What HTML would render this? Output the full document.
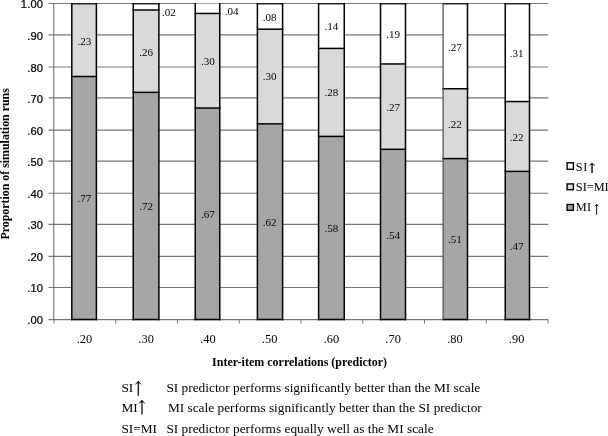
<!DOCTYPE html>
<html><head><meta charset="utf-8"><title>Figure</title>
<style>
html,body{margin:0;padding:0;background:#fff;}
body{width:608px;height:436px;overflow:hidden;}
svg{display:block;}
text{fill:#000;}
.ax{font-family:"Liberation Sans",sans-serif;font-size:11.2px;stroke:#000;stroke-width:0.22px;}
.in{font-family:"Liberation Serif",serif;font-size:11.1px;}
.xl{font-family:"Liberation Serif",serif;font-size:12.4px;}
.lg{font-family:"Liberation Serif",serif;font-size:12.3px;}
.tt{font-family:"Liberation Serif",serif;font-size:12px;font-weight:bold;}
.cp{font-family:"Liberation Serif",serif;font-size:13.34px;}
.ar{font-family:"DejaVu Math TeX Gyre","DejaVu Serif",serif;}
</style></head><body>
<svg width="608" height="436" viewBox="0 0 608 436">
<defs><clipPath id="pc"><rect x="0" y="3.0" width="608" height="340"/></clipPath></defs>
<rect width="608" height="436" fill="#fff"/>

<line x1="48.5" y1="319.55" x2="548.3" y2="319.55" stroke="#747474" stroke-width="1.15"/>
<line x1="48.5" y1="287.50" x2="548.3" y2="287.50" stroke="#747474" stroke-width="1.15"/>
<line x1="48.5" y1="256.40" x2="548.3" y2="256.40" stroke="#747474" stroke-width="1.15"/>
<line x1="48.5" y1="224.40" x2="548.3" y2="224.40" stroke="#747474" stroke-width="1.15"/>
<line x1="48.5" y1="193.25" x2="548.3" y2="193.25" stroke="#747474" stroke-width="1.15"/>
<line x1="48.5" y1="161.05" x2="548.3" y2="161.05" stroke="#747474" stroke-width="1.15"/>
<line x1="48.5" y1="130.10" x2="548.3" y2="130.10" stroke="#747474" stroke-width="1.15"/>
<line x1="48.5" y1="97.90" x2="548.3" y2="97.90" stroke="#747474" stroke-width="1.15"/>
<line x1="48.5" y1="66.95" x2="548.3" y2="66.95" stroke="#747474" stroke-width="1.15"/>
<line x1="48.5" y1="34.80" x2="548.3" y2="34.80" stroke="#747474" stroke-width="1.15"/>
<line x1="48.5" y1="3.50" x2="548.3" y2="3.50" stroke="#747474" stroke-width="1.15"/>
<line x1="53.75" y1="3.00" x2="53.75" y2="320.00" stroke="#747474" stroke-width="1.1"/>
<line x1="54.00" y1="319.50" x2="54.00" y2="323.50" stroke="#747474" stroke-width="1"/>
<line x1="115.75" y1="319.50" x2="115.75" y2="323.50" stroke="#747474" stroke-width="1"/>
<line x1="177.50" y1="319.50" x2="177.50" y2="323.50" stroke="#747474" stroke-width="1"/>
<line x1="239.25" y1="319.50" x2="239.25" y2="323.50" stroke="#747474" stroke-width="1"/>
<line x1="301.00" y1="319.50" x2="301.00" y2="323.50" stroke="#747474" stroke-width="1"/>
<line x1="362.75" y1="319.50" x2="362.75" y2="323.50" stroke="#747474" stroke-width="1"/>
<line x1="424.50" y1="319.50" x2="424.50" y2="323.50" stroke="#747474" stroke-width="1"/>
<line x1="486.25" y1="319.50" x2="486.25" y2="323.50" stroke="#747474" stroke-width="1"/>
<line x1="548.00" y1="319.50" x2="548.00" y2="323.50" stroke="#747474" stroke-width="1"/>
<text class="ax" x="43.3" y="324.20" text-anchor="end" letter-spacing="0.2">.00</text>
<text class="ax" x="43.3" y="292.15" text-anchor="end" letter-spacing="0.2">.10</text>
<text class="ax" x="43.3" y="261.20" text-anchor="end" letter-spacing="0.2">.20</text>
<text class="ax" x="43.3" y="229.10" text-anchor="end" letter-spacing="0.2">.30</text>
<text class="ax" x="43.3" y="197.95" text-anchor="end" letter-spacing="0.2">.40</text>
<text class="ax" x="43.3" y="165.65" text-anchor="end" letter-spacing="0.2">.50</text>
<text class="ax" x="43.3" y="134.50" text-anchor="end" letter-spacing="0.2">.60</text>
<text class="ax" x="43.3" y="103.30" text-anchor="end" letter-spacing="0.2">.70</text>
<text class="ax" x="43.3" y="71.90" text-anchor="end" letter-spacing="0.2">.80</text>
<text class="ax" x="43.3" y="40.00" text-anchor="end" letter-spacing="0.2">.90</text>
<text class="ax" x="43.3" y="7.70" text-anchor="end" letter-spacing="0.2">1.00</text>
<rect x="71.80" y="76.50" width="24.60" height="243.00" fill="#a6a6a6"/>
<rect x="71.80" y="3.60" width="24.60" height="72.90" fill="#d9d9d9"/>
<rect x="133.25" y="92.35" width="25.65" height="227.15" fill="#a6a6a6"/>
<rect x="133.25" y="10.00" width="25.65" height="82.35" fill="#d9d9d9"/>
<rect x="133.25" y="3.60" width="25.65" height="6.40" fill="#fff"/>
<rect x="195.25" y="108.05" width="24.50" height="211.45" fill="#a6a6a6"/>
<rect x="195.25" y="13.45" width="24.50" height="94.60" fill="#d9d9d9"/>
<rect x="195.25" y="3.60" width="24.50" height="9.85" fill="#fff"/>
<rect x="257.40" y="123.85" width="25.20" height="195.65" fill="#a6a6a6"/>
<rect x="257.40" y="29.20" width="25.20" height="94.65" fill="#d9d9d9"/>
<rect x="257.40" y="3.60" width="25.20" height="25.60" fill="#fff"/>
<rect x="318.60" y="136.40" width="25.65" height="183.10" fill="#a6a6a6"/>
<rect x="318.60" y="48.40" width="25.65" height="88.00" fill="#d9d9d9"/>
<rect x="318.60" y="3.60" width="25.65" height="44.80" fill="#fff"/>
<rect x="380.50" y="149.30" width="25.00" height="170.20" fill="#a6a6a6"/>
<rect x="380.50" y="63.95" width="25.00" height="85.35" fill="#d9d9d9"/>
<rect x="380.50" y="3.60" width="25.00" height="60.35" fill="#fff"/>
<rect x="443.10" y="158.60" width="24.40" height="160.90" fill="#a6a6a6"/>
<rect x="443.10" y="88.75" width="24.40" height="69.85" fill="#d9d9d9"/>
<rect x="443.10" y="3.60" width="24.40" height="85.15" fill="#fff"/>
<rect x="505.25" y="171.40" width="24.25" height="148.10" fill="#a6a6a6"/>
<rect x="505.25" y="101.55" width="24.25" height="69.85" fill="#d9d9d9"/>
<rect x="505.25" y="3.60" width="24.25" height="97.95" fill="#fff"/>
<line x1="71.05" y1="319.50" x2="97.15" y2="319.50" stroke="#000" stroke-width="1.5"/>
<line x1="71.05" y1="76.50" x2="97.15" y2="76.50" stroke="#000" stroke-width="1.5"/>
<line x1="71.05" y1="3.80" x2="97.15" y2="3.80" stroke="#000" stroke-width="1.2"/>
<line x1="71.80" y1="3.20" x2="71.80" y2="320.25" stroke="#000" stroke-width="1.5"/>
<line x1="96.40" y1="3.20" x2="96.40" y2="320.25" stroke="#000" stroke-width="1.5"/>
<line x1="132.50" y1="319.50" x2="159.65" y2="319.50" stroke="#000" stroke-width="1.5"/>
<line x1="132.50" y1="92.35" x2="159.65" y2="92.35" stroke="#000" stroke-width="1.5"/>
<line x1="132.50" y1="10.00" x2="159.65" y2="10.00" stroke="#000" stroke-width="1.5"/>
<line x1="132.50" y1="3.80" x2="159.65" y2="3.80" stroke="#000" stroke-width="1.2"/>
<line x1="133.25" y1="3.20" x2="133.25" y2="320.25" stroke="#000" stroke-width="1.5"/>
<line x1="158.90" y1="3.20" x2="158.90" y2="320.25" stroke="#000" stroke-width="1.5"/>
<line x1="194.50" y1="319.50" x2="220.50" y2="319.50" stroke="#000" stroke-width="1.5"/>
<line x1="194.50" y1="108.05" x2="220.50" y2="108.05" stroke="#000" stroke-width="1.5"/>
<line x1="194.50" y1="13.45" x2="220.50" y2="13.45" stroke="#000" stroke-width="1.5"/>
<line x1="195.25" y1="3.00" x2="195.25" y2="320.25" stroke="#000" stroke-width="1.5"/>
<line x1="219.75" y1="3.00" x2="219.75" y2="320.25" stroke="#000" stroke-width="1.5"/>
<line x1="256.65" y1="319.50" x2="283.35" y2="319.50" stroke="#000" stroke-width="1.5"/>
<line x1="256.65" y1="123.85" x2="283.35" y2="123.85" stroke="#000" stroke-width="1.5"/>
<line x1="256.65" y1="29.20" x2="283.35" y2="29.20" stroke="#000" stroke-width="1.5"/>
<line x1="256.65" y1="3.80" x2="283.35" y2="3.80" stroke="#000" stroke-width="1.2"/>
<line x1="257.40" y1="3.20" x2="257.40" y2="320.25" stroke="#000" stroke-width="1.5"/>
<line x1="282.60" y1="3.20" x2="282.60" y2="320.25" stroke="#000" stroke-width="1.5"/>
<line x1="317.85" y1="319.50" x2="345.00" y2="319.50" stroke="#000" stroke-width="1.5"/>
<line x1="317.85" y1="136.40" x2="345.00" y2="136.40" stroke="#000" stroke-width="1.5"/>
<line x1="317.85" y1="48.40" x2="345.00" y2="48.40" stroke="#000" stroke-width="1.5"/>
<line x1="317.85" y1="3.80" x2="345.00" y2="3.80" stroke="#000" stroke-width="1.2"/>
<line x1="318.60" y1="3.20" x2="318.60" y2="320.25" stroke="#000" stroke-width="1.5"/>
<line x1="344.25" y1="3.20" x2="344.25" y2="320.25" stroke="#000" stroke-width="1.5"/>
<line x1="379.75" y1="319.50" x2="406.25" y2="319.50" stroke="#000" stroke-width="1.5"/>
<line x1="379.75" y1="149.30" x2="406.25" y2="149.30" stroke="#000" stroke-width="1.5"/>
<line x1="379.75" y1="63.95" x2="406.25" y2="63.95" stroke="#000" stroke-width="1.5"/>
<line x1="379.75" y1="3.80" x2="406.25" y2="3.80" stroke="#000" stroke-width="1.2"/>
<line x1="380.50" y1="3.20" x2="380.50" y2="320.25" stroke="#000" stroke-width="1.5"/>
<line x1="405.50" y1="3.20" x2="405.50" y2="320.25" stroke="#000" stroke-width="1.5"/>
<line x1="442.35" y1="319.50" x2="468.25" y2="319.50" stroke="#000" stroke-width="1.5"/>
<line x1="442.35" y1="158.60" x2="468.25" y2="158.60" stroke="#000" stroke-width="1.5"/>
<line x1="442.35" y1="88.75" x2="468.25" y2="88.75" stroke="#000" stroke-width="1.5"/>
<line x1="442.35" y1="3.80" x2="468.25" y2="3.80" stroke="#000" stroke-width="1.2"/>
<line x1="443.10" y1="3.20" x2="443.10" y2="320.25" stroke="#505050" stroke-width="1.25"/>
<line x1="467.50" y1="3.20" x2="467.50" y2="320.25" stroke="#000" stroke-width="1.5"/>
<line x1="504.50" y1="319.50" x2="530.25" y2="319.50" stroke="#000" stroke-width="1.5"/>
<line x1="504.50" y1="171.40" x2="530.25" y2="171.40" stroke="#000" stroke-width="1.5"/>
<line x1="504.50" y1="101.55" x2="530.25" y2="101.55" stroke="#000" stroke-width="1.5"/>
<line x1="504.50" y1="3.80" x2="530.25" y2="3.80" stroke="#000" stroke-width="1.2"/>
<line x1="505.25" y1="3.20" x2="505.25" y2="320.25" stroke="#000" stroke-width="1.5"/>
<line x1="529.50" y1="3.20" x2="529.50" y2="320.25" stroke="#000" stroke-width="1.5"/>
<text class="in" x="84.47" y="201.90" text-anchor="middle">.77</text>
<text class="in" x="84.47" y="44.75" text-anchor="middle">.23</text>
<text class="in" x="146.22" y="210.13" text-anchor="middle">.72</text>
<text class="in" x="146.22" y="55.57" text-anchor="middle">.26</text>
<text class="in" x="162" y="16">.02</text>
<text class="in" x="207.97" y="217.68" text-anchor="middle">.67</text>
<text class="in" x="207.97" y="64.75" text-anchor="middle">.30</text>
<text class="in" x="224.7" y="15">.04</text>
<text class="in" x="269.73" y="225.98" text-anchor="middle">.62</text>
<text class="in" x="269.73" y="80.42" text-anchor="middle">.30</text>
<text class="in" x="269.73" y="20.80" text-anchor="middle">.08</text>
<text class="in" x="331.48" y="232.25" text-anchor="middle">.58</text>
<text class="in" x="331.48" y="96.40" text-anchor="middle">.28</text>
<text class="in" x="331.48" y="30.40" text-anchor="middle">.14</text>
<text class="in" x="393.23" y="238.80" text-anchor="middle">.54</text>
<text class="in" x="393.23" y="110.62" text-anchor="middle">.27</text>
<text class="in" x="393.23" y="38.17" text-anchor="middle">.19</text>
<text class="in" x="454.98" y="243.45" text-anchor="middle">.51</text>
<text class="in" x="454.98" y="128.07" text-anchor="middle">.22</text>
<text class="in" x="454.98" y="50.57" text-anchor="middle">.27</text>
<text class="in" x="516.73" y="250.15" text-anchor="middle">.47</text>
<text class="in" x="516.73" y="140.88" text-anchor="middle">.22</text>
<text class="in" x="516.73" y="56.97" text-anchor="middle">.31</text>
<text class="xl" x="84.38" y="342.8" text-anchor="middle">.20</text>
<text class="xl" x="146.12" y="342.8" text-anchor="middle">.30</text>
<text class="xl" x="207.88" y="342.8" text-anchor="middle">.40</text>
<text class="xl" x="269.62" y="342.8" text-anchor="middle">.50</text>
<text class="xl" x="331.38" y="342.8" text-anchor="middle">.60</text>
<text class="xl" x="393.12" y="342.8" text-anchor="middle">.70</text>
<text class="xl" x="454.88" y="342.8" text-anchor="middle">.80</text>
<text class="xl" x="516.62" y="342.8" text-anchor="middle">.90</text>
<text class="tt" x="299.6" y="365.5" text-anchor="middle">Inter-item correlations (predictor)</text>
<text class="tt" style="font-size:11.9px" transform="translate(8.8,163.9) rotate(-90)" text-anchor="middle">Proportion of simulation runs</text>
<rect x="567.1" y="162.8" width="6.3" height="6.5" fill="#fff" stroke="#000" stroke-width="1.4"/>
<text class="lg" transform="translate(575.8,170.7) scale(1.0,1.0)" letter-spacing="0.5">SI</text>
<text class="ar" transform="translate(588.24,171.33) scale(1.111,1)" font-size="11.93" stroke="#000" stroke-width="0.3">↑</text>
<rect x="567.1" y="183.9" width="6.3" height="5.8" fill="#d9d9d9" stroke="#000" stroke-width="1.4"/>
<text class="lg" transform="translate(575.8,190.9) scale(1.0,1.0)">SI=MI</text>
<rect x="567.1" y="204.5" width="6.3" height="5.8" fill="#a6a6a6" stroke="#000" stroke-width="1.4"/>
<text class="lg" transform="translate(575.8,211.4) scale(1.0,1.0)" letter-spacing="0.3">MI</text>
<text class="ar" transform="translate(593.24,212.91) scale(0.940,1)" font-size="12.77">↑</text>
<text class="cp" transform="translate(121.4,392) scale(1.0,1.0)">SI</text>
<text class="ar" transform="translate(133.81,392.70) scale(0.869,1)" font-size="17.83">↑</text>
<text class="cp" transform="translate(166.4,392) scale(1.0,1.0)">SI predictor performs significantly better than the MI scale</text>
<text class="cp" transform="translate(121.4,412.3) scale(1.0,1.0)">MI</text>
<text class="ar" transform="translate(137.66,412.25) scale(0.887,1)" font-size="17.47">↑</text>
<text class="cp" transform="translate(167.9,412.3) scale(1.0,1.0)">MI scale performs significantly better than the SI predictor</text>
<text class="cp" transform="translate(121.4,432.5) scale(1.0,1.0)">SI=MI</text>
<text class="cp" transform="translate(166.4,432.5) scale(1.0,1.0)">SI predictor performs equally well as the MI scale</text>
</svg></body></html>
